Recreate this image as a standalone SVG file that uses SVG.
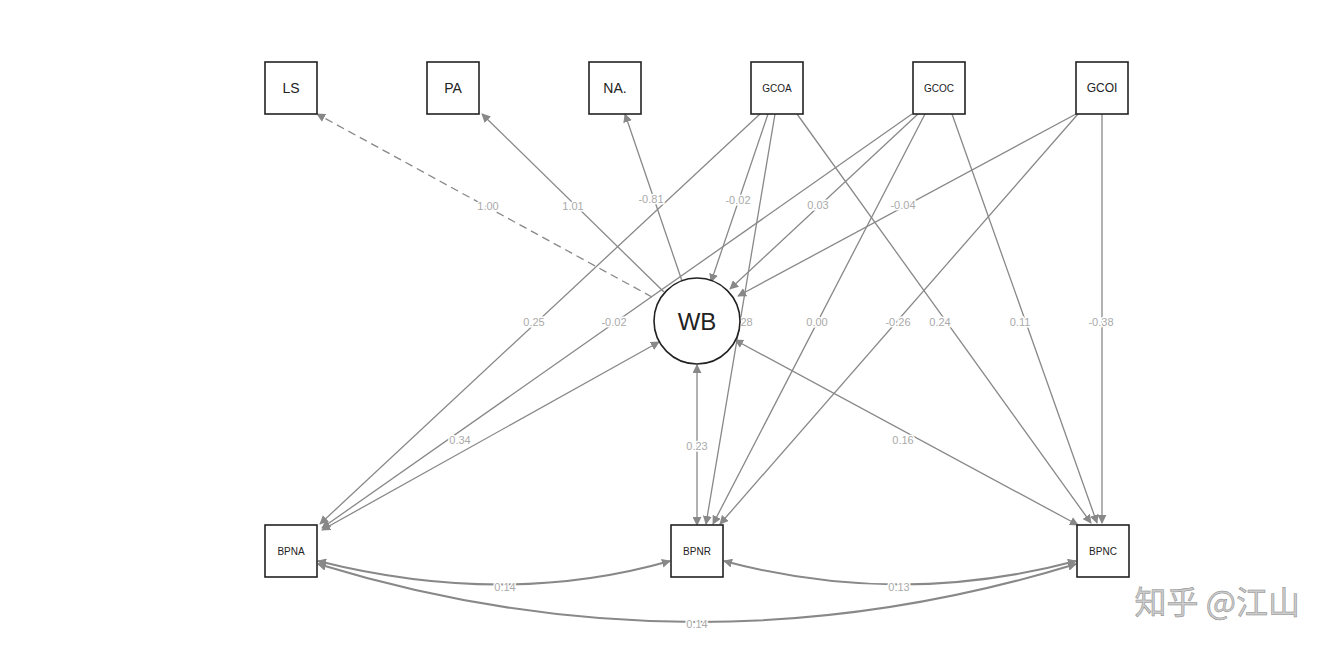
<svg xmlns="http://www.w3.org/2000/svg" width="1336" height="658" viewBox="0 0 1336 658">
<style>
.box{fill:#fff;stroke:#222;stroke-width:1.6}
.nt{font-family:"Liberation Sans",Arial,sans-serif;font-size:14px;fill:#222;text-anchor:middle;dominant-baseline:central}
.ns{font-size:10px}
.e{stroke:#888;stroke-width:1.3;fill:none}
.c{stroke-width:2}
.lb{font-family:"Liberation Sans",Arial,sans-serif;font-size:11px;fill:#aaa;text-anchor:middle;dominant-baseline:central;stroke:#fff;stroke-width:3;paint-order:stroke}
</style>
<defs>
<marker id="a" viewBox="0 0 10 10" refX="9" refY="5" markerWidth="9" markerHeight="9" orient="auto-start-reverse" markerUnits="userSpaceOnUse"><path d="M0,0 L10,5 L0,10 z" fill="#888"/></marker>
</defs>
<rect width="1336" height="658" fill="#fff"/>
<g id="connectors">
<line class="e" x1="652" y1="297" x2="317" y2="114" stroke-dasharray="8,5" marker-end="url(#a)"/>
<line class="e" x1="664" y1="292" x2="482" y2="114" marker-end="url(#a)"/>
<line class="e" x1="682" y1="281" x2="625" y2="114" marker-end="url(#a)"/>
<line class="e" x1="768" y1="114" x2="711" y2="282" marker-end="url(#a)"/>
<line class="e" x1="918" y1="114" x2="730" y2="289" marker-end="url(#a)"/>
<line class="e" x1="1076" y1="114" x2="738" y2="296" marker-end="url(#a)"/>
<line class="e" x1="760" y1="114" x2="320" y2="524" marker-end="url(#a)"/>
<line class="e" x1="912" y1="114" x2="322" y2="528" marker-end="url(#a)"/>
<line class="e" x1="775" y1="114" x2="706" y2="524" marker-end="url(#a)"/>
<line class="e" x1="925" y1="114" x2="713" y2="524" marker-end="url(#a)"/>
<line class="e" x1="1078" y1="114" x2="720" y2="524" marker-end="url(#a)"/>
<line class="e" x1="797" y1="114" x2="1091" y2="523" marker-end="url(#a)"/>
<line class="e" x1="952" y1="114" x2="1097" y2="523" marker-end="url(#a)"/>
<line class="e" x1="1102" y1="114" x2="1102" y2="523" marker-end="url(#a)"/>
<line class="e" x1="322" y1="530" x2="659" y2="342" marker-start="url(#a)" marker-end="url(#a)"/>
<line class="e" x1="697" y1="525" x2="697" y2="365" marker-start="url(#a)" marker-end="url(#a)"/>
<line class="e" x1="1078" y1="525" x2="735" y2="340" marker-start="url(#a)" marker-end="url(#a)"/>
<path class="e c" d="M318,561 Q505,608 670,561" marker-start="url(#a)" marker-end="url(#a)"/>
<path class="e c" d="M724,561 Q899,608 1076,561" marker-start="url(#a)" marker-end="url(#a)"/>
<path class="e c" d="M318,564 Q697,680 1076,564" marker-start="url(#a)" marker-end="url(#a)"/>
<text class="lb" x="488" y="206">1.00</text>
<text class="lb" x="573" y="206">1.01</text>
<text class="lb" x="651" y="199">-0.81</text>
<text class="lb" x="738" y="200">-0.02</text>
<text class="lb" x="818" y="205">0.03</text>
<text class="lb" x="903" y="205">-0.04</text>
<text class="lb" x="534" y="322">0.25</text>
<text class="lb" x="614" y="322">-0.02</text>
<text class="lb" x="742" y="322">0.28</text>
<text class="lb" x="817" y="322">0.00</text>
<text class="lb" x="898" y="322">-0.26</text>
<text class="lb" x="940" y="322">0.24</text>
<text class="lb" x="1020" y="322">0.11</text>
<text class="lb" x="1101" y="322">-0.38</text>
<text class="lb" x="460" y="440">0.34</text>
<text class="lb" x="697" y="446">0.23</text>
<text class="lb" x="903" y="440">0.16</text>
<text class="lb" x="505" y="587">0.14</text>
<text class="lb" x="899" y="587">0.13</text>
<text class="lb" x="697" y="624">0.14</text>
</g>
<g id="LS"><rect class="box" x="265" y="62" width="52" height="52"/><text class="nt" x="291" y="88">LS</text></g>
<g id="PA"><rect class="box" x="427" y="62" width="52" height="52"/><text class="nt" x="453" y="88">PA</text></g>
<g id="NA"><rect class="box" x="589" y="62" width="52" height="52"/><text class="nt" x="615" y="88">NA.</text></g>
<g id="GCOA"><rect class="box" x="751" y="62" width="52" height="52"/><text class="nt ns" x="777" y="88">GCOA</text></g>
<g id="GCOC"><rect class="box" x="913" y="62" width="52" height="52"/><text class="nt ns" x="939" y="88">GCOC</text></g>
<g id="GCOI"><rect class="box" x="1076" y="62" width="52" height="52"/><text class="nt" x="1102" y="88" style="font-size:12px">GCOI</text></g>
<g id="WB"><circle cx="697" cy="321" r="43" fill="#fff" stroke="#222" stroke-width="1.6"/><text class="nt" x="697" y="321" style="font-size:24px">WB</text></g>
<g id="BPNA"><rect class="box" x="265" y="525" width="52" height="52"/><text class="nt ns" x="291" y="551">BPNA</text></g>
<g id="BPNR"><rect class="box" x="671" y="525" width="52" height="52"/><text class="nt ns" x="697" y="551">BPNR</text></g>
<g id="BPNC"><rect class="box" x="1077" y="525" width="52" height="52"/><text class="nt ns" x="1103" y="551">BPNC</text></g>
<text x="1300" y="614" text-anchor="end" font-family="'Noto Sans CJK SC',sans-serif" font-size="32" fill="#ccc" stroke="#888" stroke-width="0.5">知乎 @江山</text>
</svg>
